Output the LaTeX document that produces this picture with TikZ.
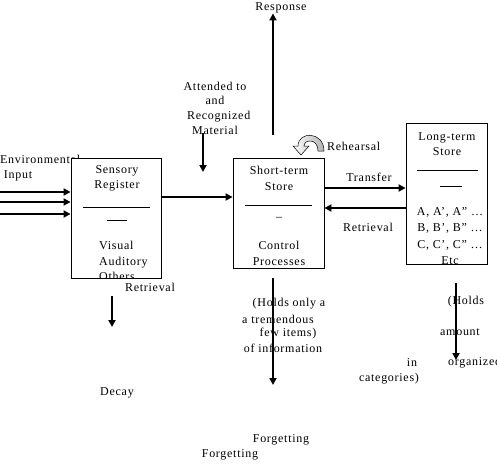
\documentclass[tikz,border=0pt]{standalone}
\usepackage{fontspec}
\setmainfont{Liberation Serif}[LetterSpace=6]
\usetikzlibrary{arrows.meta}
\begin{document}
\begin{tikzpicture}[x=1pt,y=-1pt,
  lbl/.style={inner sep=0pt,align=center,font=\fontsize{12}{15}\selectfont},
  store/.style={draw,fill=white,line width=0.8pt,inner sep=0pt},
  arr/.style={line width=2pt,-{Triangle[length=7pt,width=7pt]}},
  bar/.style={line width=0.7pt}]
\useasboundingbox (0,0) rectangle (497,463);
% text that the boxes cover
\node[lbl,align=left,anchor=west] (envinput) at (0,168) {Environmental\\[-0.5pt]\ Input};
% the three stores
\node[store,minimum width=90pt,minimum height=120pt] (sensory) at (116,218) {};
\node[store,minimum width=91pt,minimum height=110pt] (short) at (278.5,213) {};
\node[store,minimum width=81pt,minimum height=141pt] (long) at (446.5,193.5) {};
% inside the sensory register
\node[lbl] (senstitle) at (117,178) {Sensory\\Register};
\draw[bar] (83,207) -- (150,207) (107,220) -- (127,220);
\begin{scope}
  \clip (sensory.south west) rectangle (sensory.north east);
  \node[lbl,align=left,anchor=west,font=\fontsize{12}{15.5}\selectfont] (senslist) at (99,261) {Visual\\Auditory\\Others};
\end{scope}
% inside the short-term store
\node[lbl,font=\fontsize{12}{16}\selectfont] (shorttitle) at (279,178) {Short-term\\Store};
\draw[bar] (245,205) -- (312,205);
\node[lbl] (shortdash) at (279,219) {–};
\node[lbl,font=\fontsize{12}{16}\selectfont] (control) at (279,253) {Control\\Processes};
% inside the long-term store
\node[lbl] (longtitle) at (447,144) {Long-term\\Store};
\draw[bar] (417,170) -- (478,170) (440,186) -- (462,186);
\begin{scope}
  \clip (long.south west) rectangle (long.north east);
  \node[lbl,font=\fontsize{12}{16.5}\selectfont] (longlist) at (450,236) {A, A’, A” …\\B, B’, B” …\\C, C’, C” …\\Etc};
\end{scope}
% labels
\node[lbl] (response) at (281,8) {Response};
\node[lbl,font=\fontsize{12}{14.7}\selectfont] (attended) at (215,108) {Attended to\\and\\\ \ Recognized\\Material};
\node[lbl] (transfer) at (369,177) {Transfer};
\node[lbl] (retrlong) at (368,227) {Retrieval};
\node[lbl,anchor=west] (rehearsal) at (327,146) {Rehearsal};
\node[lbl] (retrsens) at (150,287) {Retrieval};
\node[lbl] (decay) at (117,393) {Decay};
\node[lbl] (holds1) at (289,304) {(Holds only a};
\node[lbl] (holds2) at (278,319) {a tremendous};
\node[lbl] (holds3) at (288,334) {few items)};
\node[lbl] (holds4) at (283,348) {of information};
\node[lbl] (forget1) at (281,440) {Forgetting};
\node[lbl] (forget2) at (230,455) {Forgetting};
\node[lbl] (lholds) at (466,302) {(Holds};
\node[lbl] (lamount) at (460,332) {amount};
\node[lbl] (lin) at (412,363) {in};
\node[lbl,anchor=west] (lorg) at (448,363) {organized};
\node[lbl] (lcat) at (389,379) {categories)};
% free ends of the arrows
\coordinate (in1) at (0,192);
\coordinate (in2) at (0,202);
\coordinate (in3) at (0,214);
\coordinate (respfoot) at (273,135);
\coordinate (attfoot) at (203,133);
\coordinate (attend) at (203,172);
\coordinate (sensdown) at (112,296);
\coordinate (sensend) at (112,327);
\coordinate (shortdown) at (273,278);
\coordinate (shortend) at (273,385);
\coordinate (longdown) at (456,283);
\coordinate (longend) at (456,360);
% arrows
\draw[arr] (in1) -- (in1 -| sensory.west);
\draw[arr] (in2) -- (in2 -| sensory.west);
\draw[arr] (in3) -- (in3 -| sensory.west);
\draw[arr] (sensory.east |- 0,197) -- (short.west |- 0,197);
\draw[arr] (short.east |- 0,188) -- (long.west |- 0,188);
\draw[arr] (long.west |- 0,208) -- (short.east |- 0,208);
\draw[arr] (respfoot) -- (respfoot |- response.south);
\draw[arr] (attfoot) -- (attend);
\draw[arr] (sensdown) -- (sensend);
\draw[arr] (shortdown) -- (shortend);
\draw[arr] (longdown) -- (longend);
% rehearsal loop
\draw[line width=0.5pt,left color=white,right color=gray!60]
  (324,151) .. controls (324,131) and (298,131) .. (298,146)
  -- (293,146) -- (301,155) -- (309,146) -- (304,146)
  .. controls (304,139) and (318,138) .. (318,151) -- cycle;
\end{tikzpicture}
\end{document}
